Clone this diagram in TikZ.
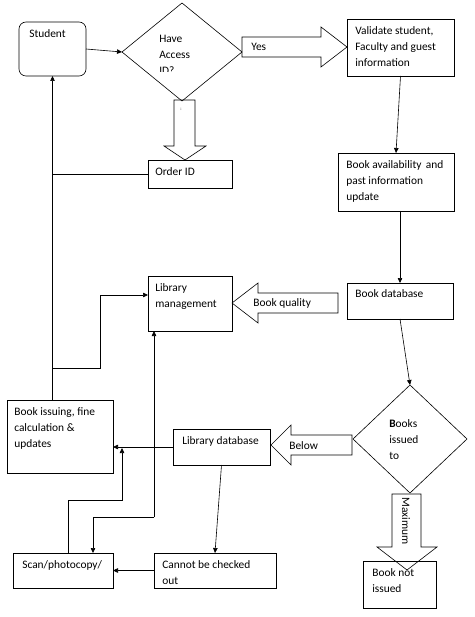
\documentclass[tikz,border=0pt]{standalone}
\usepackage{fontspec}
\setmainfont{Carlito}
\usepackage{tikz}
\usetikzlibrary{shapes,arrows.meta,positioning,calc}

\tikzset{
  box/.style={draw, anchor=north west, inner sep=0pt, outer sep=0pt},
  ask/.style={draw, diamond, inner sep=0pt, outer sep=0pt},
  txt/.style={anchor=north west, align=left, inner sep=0pt, font=\fontsize{11.4}{16}\selectfont},
  conn/.style={-{Triangle[length=5pt,width=4.5pt]}},
  blk/.style={line join=miter}
}

\begin{document}
\begin{tikzpicture}[x=1pt, y=-1pt, line width=0.6pt]
    \useasboundingbox (0,0) rectangle (474,617);

    % boxes and decisions
    \node[box, rounded corners=7pt, minimum width=67, minimum height=54] (student) at (19,22) {};
    \node[ask, minimum width=120, minimum height=98] (access) at (182,52) {};
    \node[box, minimum width=84, minimum height=28] (order) at (148,160) {};
    \node[box, minimum width=107, minimum height=57] (validate) at (347,19) {};
    \node[box, minimum width=116, minimum height=58] (avail) at (338,153) {};
    \node[box, minimum width=84, minimum height=55] (libmgmt) at (148,276) {};
    \node[box, minimum width=106, minimum height=36] (bookdb) at (347,283) {};
    \node[ask, minimum width=114, minimum height=108] (issued) at (410,439) {};
    \node[box, minimum width=106, minimum height=73] (issuing) at (7,400) {};
    \node[box, minimum width=97, minimum height=36] (libdb) at (173,429) {};
    \node[box, minimum width=100, minimum height=35] (scan) at (13,553) {};
    \node[box, minimum width=122, minimum height=35] (cannot) at (154,553) {};
    \node[box, minimum width=73, minimum height=47] (notissued) at (363,561) {};

    % texts
    \node[txt] (student-t) at ([shift={(10,7.5)}]student.north west) {Student};
    \begin{scope}
        \clip (150,20) rectangle (215,71.5);
        \node[txt] (access-t) at (159,35) {Have\\Access\\ID?};
    \end{scope}
    \node[txt] (order-t) at ([shift={(7,7.5)}]order.north west) {Order ID};
    \node[txt] (validate-t) at ([shift={(8,7.5)}]validate.north west) {Validate student,\\Faculty and guest\\information};
    \node[txt] (avail-t) at ([shift={(8,7.5)}]avail.north west) {Book availability\, and\\past information\\update};
    \node[txt] (libmgmt-t) at ([shift={(7,7.5)}]libmgmt.north west) {Library\\management};
    \node[txt] (bookdb-t) at ([shift={(8,6.5)}]bookdb.north west) {Book database};
    \node[txt] (issued-t) at (389,419) {\textbf{B}ooks\\issued\\to};
    \node[txt] (issuing-t) at ([shift={(7,7.5)}]issuing.north west) {Book issuing, fine\\calculation \&\\updates};
    \node[txt] (libdb-t) at ([shift={(9,7.5)}]libdb.north west) {Library database};
    \node[txt] (scan-t) at ([shift={(9,7)}]scan.north west) {Scan/photocopy/};
    \node[txt] (cannot-t) at ([shift={(8,7)}]cannot.north west) {Cannot be checked\\out};
    \node[txt] (notissued-t) at ([shift={(9,7)}]notissued.north west) {Book not\\issued};

    % block arrows
    \draw[blk] (242,37) -- (321,37) -- (321,27) -- (347,47) -- (321,67) -- (321,57) -- (242,57) -- cycle;
    \node[txt, anchor=west] (yes) at (251,47) {Yes};
    \draw[blk] (174,100) -- (174,146) -- (164,146) -- (185,160) -- (206,146) -- (195,146) -- (195,100) -- cycle;
    \node[font=\tiny] (dots) at (181,109) {:};
    \draw[blk] (338,293) -- (258,293) -- (258,283) -- (232,303) -- (258,323) -- (258,313) -- (338,313) -- cycle;
    \node[txt, anchor=west] (quality) at (253,303) {Book quality};
    \draw[blk] (352,435) -- (291,435) -- (291,425) -- (271,445) -- (291,465) -- (291,455) -- (352,455) -- cycle;
    \node[txt, anchor=west] (below) at (289,446) {Below};
    \draw[blk] (392,494) -- (392,547) -- (377,547) -- (407,570) -- (437,547) -- (421,547) -- (421,494) -- cycle;
    \node[txt, anchor=center, rotate=-90] (maximum) at (406,521) {Maximum};

    % connectors
    \draw[conn] (student.east) -- (access.west);
    \draw[conn] (validate.south) -- (avail.north);
    \draw[conn] (avail.south -| bookdb.north) -- (bookdb.north);
    \draw[conn] (bookdb.south) -- (issued.north);
    \draw[conn] (libdb.west) -- (libdb.west -| issuing.east);
    \draw[conn] (libdb.south) -- (cannot.north);
    \draw[conn] (cannot.west) -- (scan.east);
    \draw[conn] (issuing.north -| student.south) -- (student.south);
    \draw (order.west) -- (order.west -| student.south);

    \coordinate (j1) at (52.5,368);
    \coordinate (k1) at (100,295);
    \draw[conn] (j1) -| (k1) -- (k1 -| libmgmt.west);
    \coordinate (j2) at (154,517);
    \coordinate (k2) at (93,517);
    \draw[conn] (j2) -- (j2 |- libmgmt.south);
    \draw[conn] (j2) -- (k2) -- (k2 |- scan.north);
    \coordinate (k3) at (68,500);
    \coordinate (k4) at (122,448);
    \draw[conn] (k3 |- scan.north) -- (k3) -| (k4);
\end{tikzpicture}
\end{document}
